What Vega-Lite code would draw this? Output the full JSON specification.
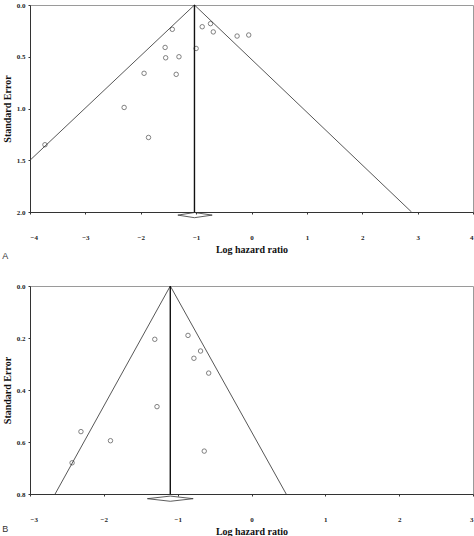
{
  "$schema": "https://vega.github.io/schema/vega-lite/v6.json",
  "padding": {"left": 1, "top": 0, "right": 0, "bottom": 0},
  "spacing": 19,
  "config": {
    "view": {"stroke": "#9a9a9a", "strokeWidth": 1},
    "axis": {
      "grid": false,
      "domainColor": "#333",
      "tickColor": "#333",
      "tickSize": 2,
      "labelFont": "Liberation Serif",
      "labelFontWeight": "bold",
      "labelFontSize": 7,
      "labelColor": "#222",
      "titleFont": "Liberation Serif",
      "titleFontWeight": "bold",
      "titleFontSize": 10,
      "titleColor": "#111"
    },
    "title": {"font": "Liberation Sans", "fontSize": 9, "fontWeight": "normal", "color": "#333"}
  },
  "vconcat": [
    {
      "width": 443,
      "height": 207,
      "title": {"text": "A", "orient": "bottom", "anchor": "start", "frame": "bounds", "offset": -2},
      "layer": [
        {
          "data": {"values": [
            {"side": "left", "lhr": -1.03, "se": 0},
            {"side": "left", "lhr": -4, "se": 1.5},
            {"side": "right", "lhr": -1.03, "se": 0},
            {"side": "right", "lhr": 2.89, "se": 2}
          ]},
          "mark": {"type": "line", "color": "#444", "strokeWidth": 0.9},
          "encoding": {
            "x": {"field": "lhr", "type": "quantitative", "scale": {"domain": [-4, 4], "nice": false},
              "title": "Log hazard ratio",
              "axis": {"values": [-4, -3, -2, -1, 0, 1, 2, 3, 4], "format": "d", "labelPadding": 19, "titlePadding": 4}},
            "y": {"field": "se", "type": "quantitative", "scale": {"domain": [0, 2], "reverse": true, "nice": false, "zero": false},
              "title": "Standard Error",
              "axis": {"values": [0, 0.5, 1, 1.5, 2], "format": ".1f", "labelPadding": 3, "titlePadding": 4}},
            "detail": {"field": "side"}
          }
        },
        {
          "data": {"values": [{"lhr": -1.03, "se0": 0, "se1": 2}]},
          "mark": {"type": "rule", "color": "#111", "strokeWidth": 1.4},
          "encoding": {
            "x": {"field": "lhr", "type": "quantitative"},
            "y": {"field": "se0", "type": "quantitative"},
            "y2": {"field": "se1"}
          }
        },
        {
          "data": {"values": [
            {"lhr": -1.33, "se": 2.03, "o": 1},
            {"lhr": -1.03, "se": 2.005, "o": 2},
            {"lhr": -0.71, "se": 2.03, "o": 3},
            {"lhr": -1.03, "se": 2.055, "o": 4},
            {"lhr": -1.33, "se": 2.03, "o": 5}
          ]},
          "mark": {"type": "line", "color": "#333", "strokeWidth": 0.8},
          "encoding": {
            "x": {"field": "lhr", "type": "quantitative"},
            "y": {"field": "se", "type": "quantitative"},
            "order": {"field": "o"}
          }
        },
        {
          "data": {"values": [
            {"lhr": -1.43, "se": 0.235},
            {"lhr": -0.89, "se": 0.21},
            {"lhr": -0.74, "se": 0.18},
            {"lhr": -0.69, "se": 0.26},
            {"lhr": -0.26, "se": 0.30},
            {"lhr": -0.05, "se": 0.29},
            {"lhr": -1.56, "se": 0.41},
            {"lhr": -1.0, "se": 0.42},
            {"lhr": -1.55, "se": 0.51},
            {"lhr": -1.31, "se": 0.50},
            {"lhr": -1.94, "se": 0.66},
            {"lhr": -1.36, "se": 0.67},
            {"lhr": -2.30, "se": 0.99},
            {"lhr": -1.86, "se": 1.28},
            {"lhr": -3.73, "se": 1.35}
          ]},
          "mark": {"type": "point", "shape": "circle", "filled": false, "color": "#222", "size": 20, "strokeWidth": 0.8},
          "encoding": {
            "x": {"field": "lhr", "type": "quantitative"},
            "y": {"field": "se", "type": "quantitative"}
          }
        }
      ]
    },
    {
      "width": 443,
      "height": 208,
      "title": {"text": "B", "orient": "bottom", "anchor": "start", "frame": "bounds", "offset": -11},
      "layer": [
        {
          "data": {"values": [
            {"side": "left", "lhr": -1.10, "se": 0},
            {"side": "left", "lhr": -2.66, "se": 0.8},
            {"side": "right", "lhr": -1.10, "se": 0},
            {"side": "right", "lhr": 0.47, "se": 0.8}
          ]},
          "mark": {"type": "line", "color": "#444", "strokeWidth": 0.9},
          "encoding": {
            "x": {"field": "lhr", "type": "quantitative", "scale": {"domain": [-3, 3], "nice": false},
              "title": "Log hazard ratio",
              "axis": {"values": [-3, -2, -1, 0, 1, 2, 3], "format": "d", "labelPadding": 19, "titlePadding": 4}},
            "y": {"field": "se", "type": "quantitative", "scale": {"domain": [0, 0.8], "reverse": true, "nice": false, "zero": false},
              "title": "Standard Error",
              "axis": {"values": [0, 0.2, 0.4, 0.6, 0.8], "format": ".1f", "labelPadding": 3, "titlePadding": 4}},
            "detail": {"field": "side"}
          }
        },
        {
          "data": {"values": [{"lhr": -1.10, "se0": 0, "se1": 0.8}]},
          "mark": {"type": "rule", "color": "#111", "strokeWidth": 1.4},
          "encoding": {
            "x": {"field": "lhr", "type": "quantitative"},
            "y": {"field": "se0", "type": "quantitative"},
            "y2": {"field": "se1"}
          }
        },
        {
          "data": {"values": [
            {"lhr": -1.41, "se": 0.818, "o": 1},
            {"lhr": -1.10, "se": 0.808, "o": 2},
            {"lhr": -0.79, "se": 0.818, "o": 3},
            {"lhr": -1.10, "se": 0.828, "o": 4},
            {"lhr": -1.41, "se": 0.818, "o": 5}
          ]},
          "mark": {"type": "line", "color": "#333", "strokeWidth": 0.8},
          "encoding": {
            "x": {"field": "lhr", "type": "quantitative"},
            "y": {"field": "se", "type": "quantitative"},
            "order": {"field": "o"}
          }
        },
        {
          "data": {"values": [
            {"lhr": -1.31, "se": 0.205},
            {"lhr": -0.86, "se": 0.19},
            {"lhr": -0.69, "se": 0.25},
            {"lhr": -0.78, "se": 0.278},
            {"lhr": -0.58, "se": 0.335},
            {"lhr": -1.28, "se": 0.464},
            {"lhr": -2.31, "se": 0.56},
            {"lhr": -1.91, "se": 0.595},
            {"lhr": -0.64, "se": 0.635},
            {"lhr": -2.43, "se": 0.68}
          ]},
          "mark": {"type": "point", "shape": "circle", "filled": false, "color": "#222", "size": 20, "strokeWidth": 0.8},
          "encoding": {
            "x": {"field": "lhr", "type": "quantitative"},
            "y": {"field": "se", "type": "quantitative"}
          }
        }
      ]
    }
  ]
}
